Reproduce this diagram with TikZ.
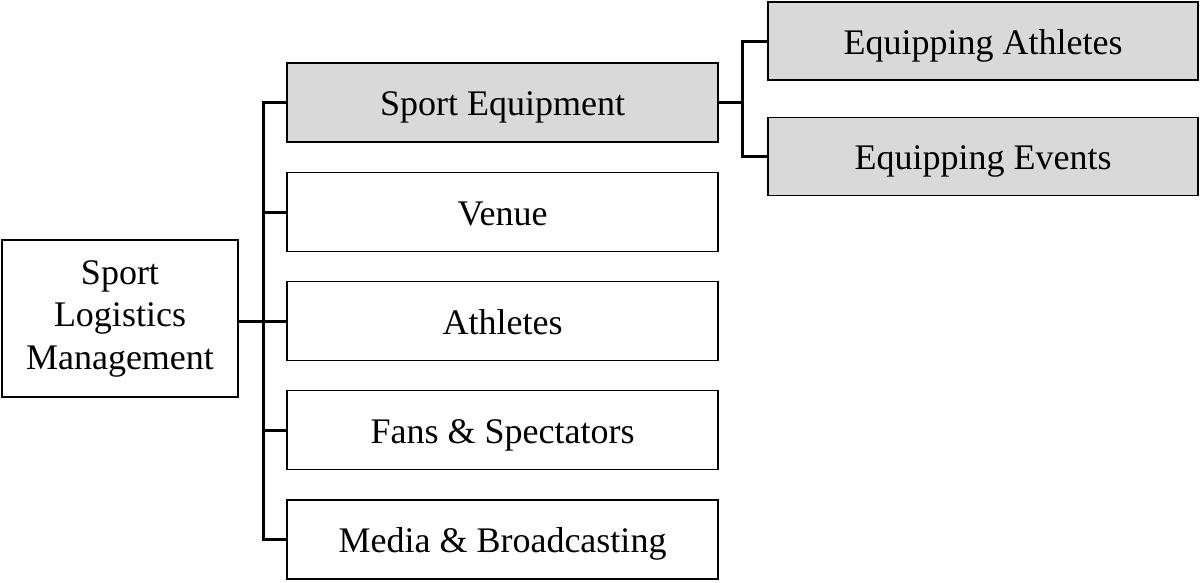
\documentclass[tikz,border=0pt]{standalone}
\usepackage{fontspec}
\setmainfont{Liberation Serif}
\begin{document}
\begin{tikzpicture}[x=1pt,y=-1pt,
  box/.style={draw=black,line width=1.6pt,rectangle,inner sep=0pt,align=center,
    font=\fontsize{36}{42.5}\selectfont},
  oneline/.style={box,text height=31pt,text depth=5pt},
  mid/.style={oneline,minimum width=431pt,minimum height=79pt},
  side/.style={oneline,minimum width=430pt,minimum height=78pt},
  shaded/.style={fill=gray!30},
  conn/.style={line width=3pt,line join=miter}]
\useasboundingbox (0,0) rectangle (1200,582);
\node[box,minimum width=236pt,minimum height=157pt] (root) at (120,318.5) {Sport\\Logistics\\Management};
\node[mid,shaded] (m1) at (502.5,102.5) {Sport Equipment};
\node[mid] (m2) at (502.5,212) {Venue};
\node[mid] (m3) at (502.5,321) {Athletes};
\node[mid] (m4) at (502.5,430) {Fans \& Spectators};
\node[mid] (m5) at (502.5,539.5) {Media \& Broadcasting};
\node[side,shaded] (r1) at (983,41) {Equipping Athletes};
\node[side,shaded] (r2) at (983,156.5) {Equipping Events};
\coordinate (bus) at (263,0);
\coordinate (bus2) at (742,0);
\draw[conn] (m1.west) -| (bus |- m5.west) -- (m5.west);
\draw[conn] (root.east |- m3.west) -- (m3.west);
\draw[conn] (m2.west) -- (bus |- m2.west);
\draw[conn] (m4.west) -- (bus |- m4.west);
\draw[conn] (r1.west) -| (bus2 |- r2.west) -- (r2.west);
\draw[conn] (m1.east) -- (bus2 |- m1.east);
\end{tikzpicture}
\end{document}
